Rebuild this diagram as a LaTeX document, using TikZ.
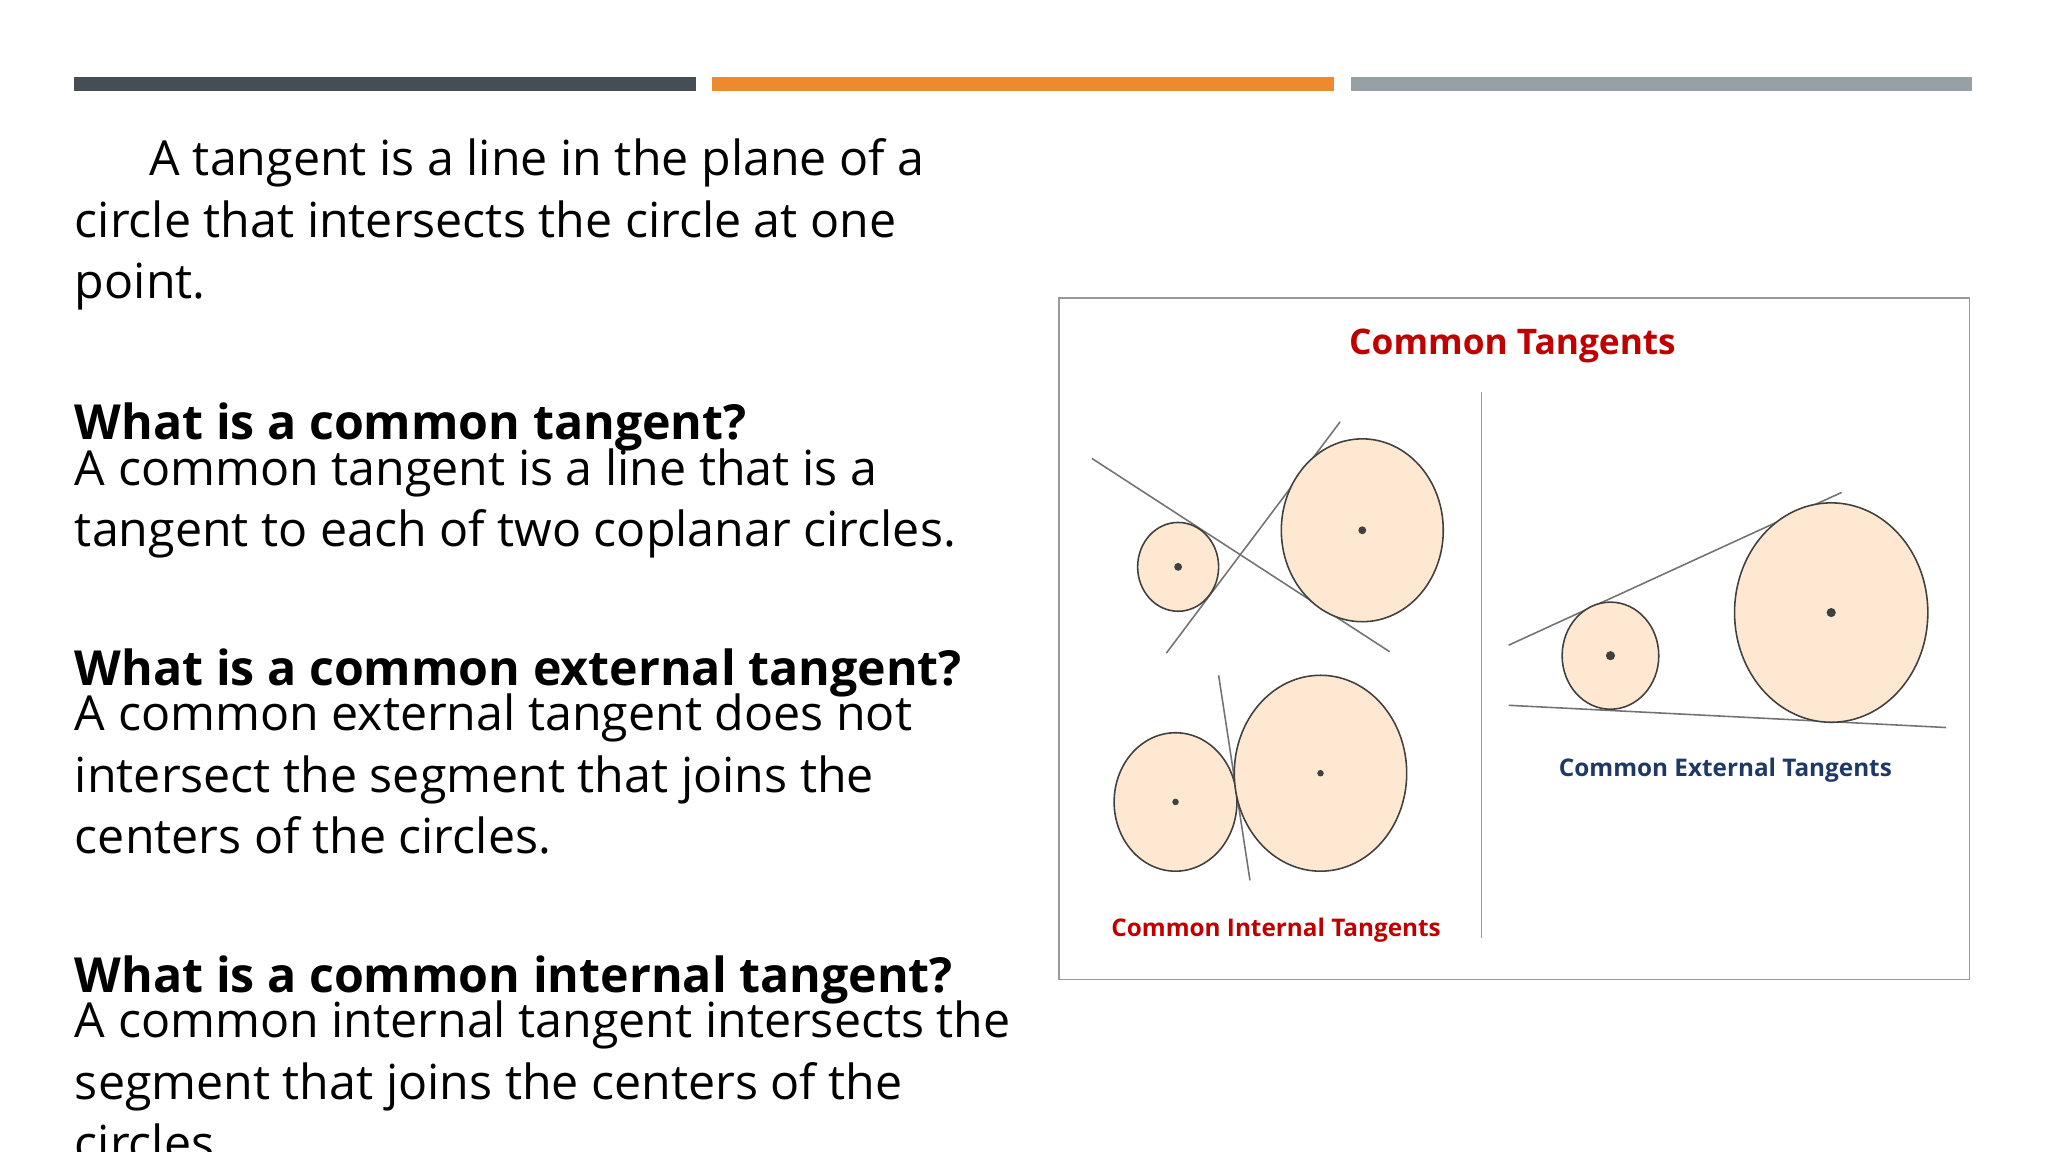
\documentclass[tikz,border=0pt]{standalone}
\usepackage{fontspec}
\setmainfont{Open Sans}
\begin{document}
\begin{tikzpicture}[x=0.5pt,y=-0.5pt,
  body/.style={anchor=north west,align=left,inner sep=0pt,font=\fontsize{18.5}{23.5}\selectfont},
  circ/.style={draw=black!75,fill=orange!18!white,line width=0.6pt},
  tline/.style={draw=black!55,line width=0.6pt},
  dotc/.style={fill=black!75}]
\useasboundingbox (0,0) rectangle (1568,882);
\fill[white] (0,0) rectangle (1568,882);
\fill[fill={rgb,255:red,70;green,78;blue,85}] (57,59) rectangle (533,70);
\fill[fill={rgb,255:red,237;green,138;blue,46}] (545,59) rectangle (1021,70);
\fill[fill={rgb,255:red,151;green,160;blue,165}] (1034,59) rectangle (1510,70);
\node[body] (t1) at (57,106) {\hspace{1.55em}A tangent is a line in the plane of a\\circle that intersects the circle at one\\point.};
\node[body] (q1) at (57,308) {\textbf{What is a common tangent?}\\[-6pt]A common tangent is a line that is a\\tangent to each of two coplanar circles.};
\node[body] (q2) at (57,496) {\textbf{What is a common external tangent?}\\[-6pt]A common external tangent does not\\intersect the segment that joins the\\centers of the circles.};
\node[body] (q3) at (57,731) {\textbf{What is a common internal tangent?}\\[-6pt]A common internal tangent intersects the\\segment that joins the centers of the\\circles.};
\draw[black!40,line width=0.6pt] (811,228) rectangle (1508,750);
\node[font=\bfseries\fontsize{13.5}{16}\selectfont,text={rgb,255:red,192;green,0;blue,0}] (title) at (1158,265) {Common Tangents};
\draw[black!40,line width=0.5pt] (1134,300) -- (1134,718);
% top-left
\draw[tline] (836,351) -- (1064,499);
\draw[tline] (893,500) -- (1026,323);
\draw[circ] (902,434) ellipse (31 and 34);
\draw[circ] (1043,406) ellipse (62 and 70);
\fill[dotc] (902,434) circle (3);
\fill[dotc] (1043,406) circle (3);
% bottom-left
\draw[tline] (933,517) -- (957,674);
\draw[circ] (900,614) ellipse (47 and 53);
\draw[circ] (1011,592) ellipse (66 and 75);
\fill[dotc] (900,614) circle (2.5);
\fill[dotc] (1011,592) circle (2.5);
% right
\draw[tline] (1155,494) -- (1410,377);
\draw[tline] (1155,540) -- (1490,557);
\draw[circ] (1233,502) ellipse (37 and 41);
\draw[circ] (1402,469) ellipse (74 and 84);
\fill[dotc] (1233,502) circle (3.5);
\fill[dotc] (1402,469) circle (3.5);
\node[font=\fontsize{9.3}{11}\selectfont\bfseries,text={rgb,255:red,31;green,56;blue,100}] (ext) at (1321,590) {Common External Tangents};
\node[font=\fontsize{9.3}{11}\selectfont\bfseries,text={rgb,255:red,192;green,0;blue,0}] (int) at (977,712) {Common Internal Tangents};
\end{tikzpicture}
\end{document}
